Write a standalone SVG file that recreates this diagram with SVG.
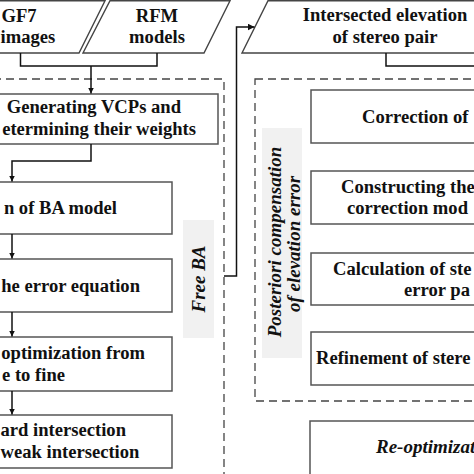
<svg xmlns="http://www.w3.org/2000/svg" width="474" height="474" viewBox="0 0 474 474">
<style>
.box{fill:#fff;stroke:#555;stroke-width:1.5}
.para{fill:#fff;stroke:#444;stroke-width:1.4}
.dash{fill:none;stroke:#444;stroke-width:1.3;stroke-dasharray:8 5}
.lbl{fill:#f1f1f1;stroke:none}
.t{font-family:"Liberation Serif","Times New Roman",serif;font-weight:bold;font-size:18.6px;fill:#111}
.ti{font-family:"Liberation Serif","Times New Roman",serif;font-weight:bold;font-style:italic;font-size:19px;fill:#111}
.c{fill:none;stroke:#111;stroke-width:1.5}
</style>
<defs>
<marker id="ah" viewBox="0 0 10 10" refX="10" refY="5" markerWidth="6" markerHeight="6" markerUnits="userSpaceOnUse" orient="auto">
<path d="M0,0 L10,5 L0,10 z" fill="#111"/>
</marker>
<marker id="ah2" viewBox="0 0 10 10" refX="10" refY="5" markerWidth="7" markerHeight="7" orient="auto" markerUnits="userSpaceOnUse">
<path d="M0,0 L10,5 L0,10 z" fill="#111"/>
</marker>
</defs>
<rect width="474" height="474" fill="#fff"/>

<g id="dash-freeba"><rect class="dash" x="-20" y="79" width="244" height="420"/></g>
<g id="dash-post"><rect class="dash" x="255" y="79" width="240" height="322"/></g>

<g id="gf7">
<polygon class="para" points="-30,0.7 105,0.7 79,53 -60,53"/>
<text class="t" x="19" y="22" text-anchor="middle">GF7</text>
<text class="t" x="0.5" y="43">images</text>
</g>
<g id="rfm">
<polygon class="para" points="110,0.7 230,0.7 204,53 83,53"/>
<text class="t" x="157" y="22" text-anchor="middle">RFM</text>
<text class="t" x="157" y="43" text-anchor="middle">models</text>
</g>
<g id="intersected">
<polygon class="para" points="268,0.7 520,0.7 500,53 242,53"/>
<text class="t" x="385" y="21" text-anchor="middle">Intersected elevation</text>
<text class="t" x="385" y="43" text-anchor="middle">of stereo pair</text>
</g>

<g id="vcp">
<rect class="box" x="-20" y="94" width="238" height="50"/>
<text class="t" x="181" y="113" text-anchor="end">Generating VCPs and</text>
<text class="t" x="196" y="135" text-anchor="end">etermining their weights</text>
</g>
<g id="ba">
<rect class="box" x="-20" y="182" width="192" height="52"/>
<text class="t" x="117" y="214" text-anchor="end">n of BA model</text>
</g>
<g id="erreq">
<rect class="box" x="-20" y="259" width="192" height="53"/>
<text class="t" x="140" y="292" text-anchor="end">he error equation</text>
</g>
<g id="opt">
<rect class="box" x="-20" y="337" width="192" height="54"/>
<text class="t" x="145" y="359" text-anchor="end">optimization from</text>
<text class="t" x="65" y="381" text-anchor="end">e to fine</text>
</g>
<g id="fwd">
<rect class="box" x="-20" y="415" width="192" height="53"/>
<text class="t" x="0.5" y="436">ard intersection</text>
<text class="t" x="0.5" y="458">weak intersection</text>
</g>

<g id="freeba-label">
<rect class="lbl" x="183" y="220" width="31" height="118"/>
<text class="ti" transform="translate(205,279) rotate(-90)" text-anchor="middle">Free BA</text>
</g>
<g id="post-label">
<rect class="lbl" x="262" y="128" width="40" height="230"/>
<text class="ti" transform="translate(281,242) rotate(-90)" text-anchor="middle">Posteriori compensation</text>
<text class="ti" transform="translate(300,244) rotate(-90)" text-anchor="middle">of elevation error</text>
</g>

<g id="corr">
<rect class="box" x="311" y="90" width="190" height="53"/>
<text class="t" x="362" y="123">Correction of</text>
</g>
<g id="construct">
<rect class="box" x="311" y="171" width="190" height="53"/>
<text class="t" x="341" y="193">Constructing the</text>
<text class="t" x="347" y="214">correction mod</text>
</g>
<g id="calc">
<rect class="box" x="311" y="253" width="190" height="52"/>
<text class="t" x="333" y="275">Calculation of ste</text>
<text class="t" x="404" y="296">error pa</text>
</g>
<g id="refine">
<rect class="box" x="311" y="332" width="190" height="53"/>
<text class="t" x="316" y="364">Refinement of stere</text>
</g>
<g id="reopt">
<rect class="box" x="310" y="421" width="190" height="70" fill="#fafafa"/>
<text class="ti" x="376" y="453">Re-optimizat</text>
</g>

<g id="connectors">
<polyline class="c" points="20.5,53 20.5,66 157,66 157,53"/>
<line class="c" x1="91" y1="66" x2="91" y2="93.5" marker-end="url(#ah)"/>
<polyline class="c" points="91,144 91,161 12,161 12,181.5" marker-end="url(#ah)"/>
<line class="c" x1="12" y1="234" x2="12" y2="258.5" marker-end="url(#ah)"/>
<line class="c" x1="12" y1="312" x2="12" y2="336.5" marker-end="url(#ah)"/>
<line class="c" x1="12" y1="391" x2="12" y2="414.5" marker-end="url(#ah)"/>
<polyline class="c" points="224,276 236.5,276 236.5,27 254.5,27" marker-end="url(#ah2)"/>
<polyline class="c" points="386,53 386,66 476,66"/>
</g>
</svg>
